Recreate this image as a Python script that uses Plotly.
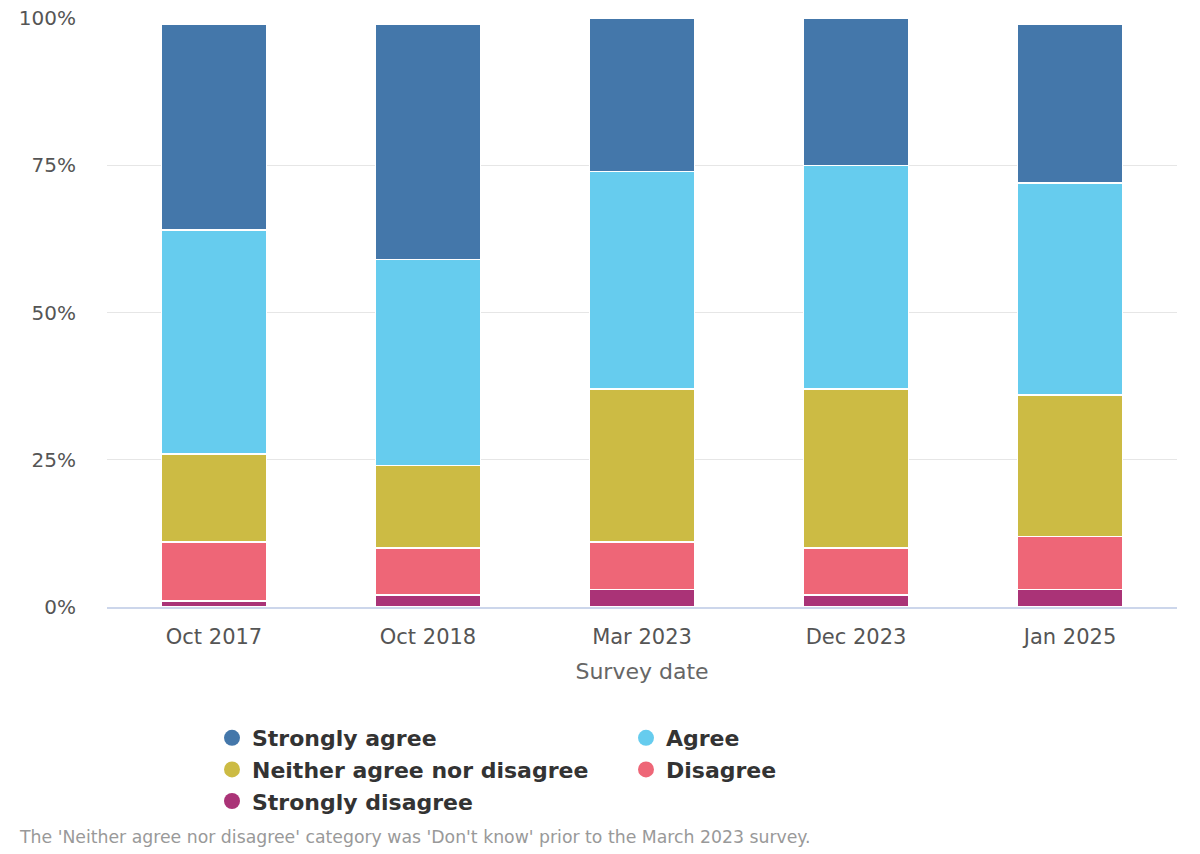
import plotly.graph_objects as go

# survey dates (x categories)
dates = ["Oct 2017", "Oct 2018", "Mar 2023", "Dec 2023", "Jan 2025"]

# percentages per response
strongly_disagree = [1, 2, 3, 2, 3]
disagree = [10, 8, 8, 8, 9]
neither = [15, 14, 26, 27, 24]
agree = [38, 35, 37, 38, 36]
strongly_agree = [35, 40, 26, 25, 27]

FONT = "DejaVu Sans"

# stacking order bottom -> top, legend order separately
series = [
    ("Strongly disagree", strongly_disagree, "#AA3377"),
    ("Disagree", disagree, "#EE6677"),
    ("Neither agree nor disagree", neither, "#CCBB44"),
    ("Agree", agree, "#66CCEE"),
    ("Strongly agree", strongly_agree, "#4477AA"),
]
legend_order = ["Strongly agree", "Agree", "Neither agree nor disagree",
                "Disagree", "Strongly disagree"]
colors = {name: col for name, _, col in series}

fig = go.Figure()
for name, vals, col in series:
    fig.add_trace(go.Bar(
        x=dates, y=vals, name=name,
        marker=dict(color=col, line=dict(color="white", width=1.5)),
        showlegend=False,
    ))

# dummy traces so the legend shows round markers
for i, name in enumerate(legend_order):
    fig.add_trace(go.Scatter(
        x=[None], y=[None], mode="markers", name=name,
        marker=dict(color=colors[name], size=16, symbol="circle"),
        legendrank=i,
    ))

fig.update_layout(
    barmode="stack",
    bargap=0.51,
    width=1200, height=854,
    margin=dict(l=107, r=23, t=18, b=247, autoexpand=False),
    plot_bgcolor="white",
    paper_bgcolor="white",
    font=dict(family=FONT, color="#666666", size=17),
    xaxis=dict(
        title=dict(text="Survey date", font=dict(size=22, color="#666666"), standoff=16),
        showline=True, linecolor="#ccd6eb", linewidth=1.5,
        ticks="", tickfont=dict(size=21, color="#555555"),
        ticklabelstandoff=10,
    ),
    yaxis=dict(
        range=[0, 100.05],
        tickvals=[0, 25, 50, 75, 100],
        ticktext=["0%", "25%", "50%", "75%", "100%"],
        gridcolor="#e6e6e6", gridwidth=1.2,
        zeroline=False,
        tickfont=dict(size=20, color="#555555"),
        ticklabelstandoff=30,
        ticklabeloverflow="allow",
    ),
    legend=dict(
        orientation="h",
        xref="container", yref="container",
        x=212 / 1200, xanchor="left",
        y=1 - 717 / 854, yanchor="top",
        entrywidth=369, entrywidthmode="pixels",
        font=dict(size=22, color="#333333", family=FONT, weight="bold"),
        traceorder="normal",
        itemwidth=30,
        tracegroupgap=0,
    ),
    annotations=[dict(
        text="The 'Neither agree nor disagree' category was 'Don't know' prior to the March 2023 survey.",
        xref="paper", yref="paper", x=-90 / 1070, y=-(837 - 607) / 589,
        xanchor="left", yanchor="middle", showarrow=False,
        font=dict(size=17.3, color="#999999"),
    )],
)

# drop the page's default body margin so the figure sits at the window corner
fig.write_html(
    "out.html",
    config={"displayModeBar": False},
    post_script="document.body.style.margin='0px';",
)
